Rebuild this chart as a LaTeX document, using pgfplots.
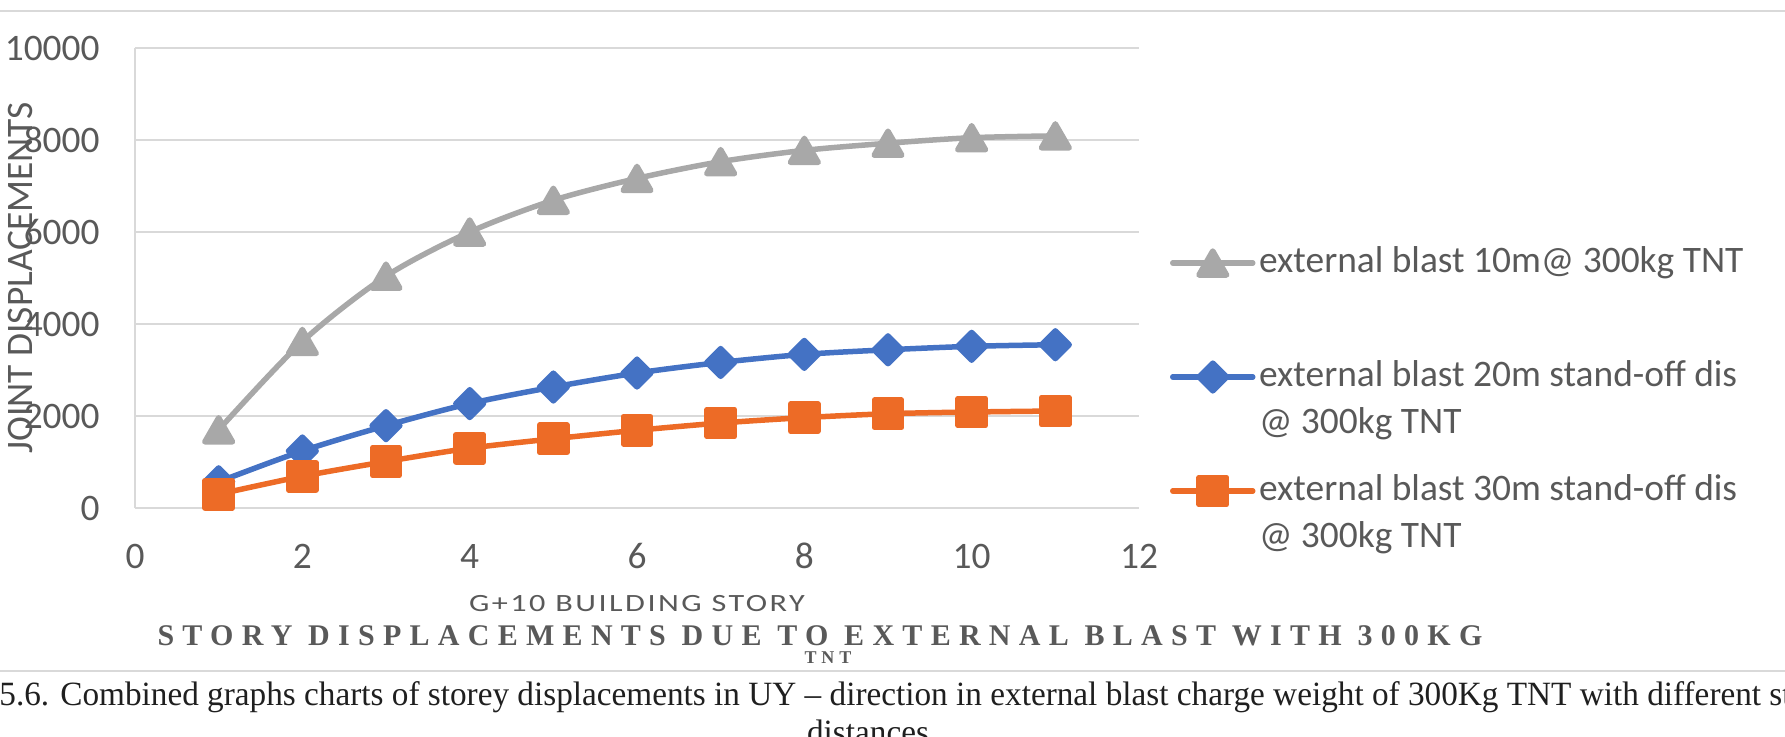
\documentclass[border=0pt]{standalone}
\usepackage{pgfplots}
\pgfplotsset{compat=1.18}
\usepackage{fontspec}
\setmainfont{Carlito}
\newfontfamily\axtitlefont{Carlito}[FakeStretch=1.3, LetterSpace=10]
\newfontfamily\serifcap{Liberation Serif}[FakeStretch=0.978]
\newfontfamily\charttitle{Liberation Serif}[LetterSpace=27.6]
\definecolor{txt}{HTML}{595959}
\definecolor{gridc}{HTML}{D9D9D9}
\definecolor{sgray}{HTML}{A8A8A8}
\definecolor{sblue}{HTML}{4472C4}
\definecolor{sorange}{HTML}{ED6B26}
% two-line legend entry, aligned on its first line
\newcommand\twolines[2]{\vtop{\hbox{#1}\hbox{#2}}}

\begin{document}
\begin{tikzpicture}
\useasboundingbox (0,0) rectangle (892.5pt,-368pt);
\draw[gridc, line width=1pt] (0,-5.5pt) -- (892.5pt,-5.5pt);
\begin{axis}[
  at={(67.5pt,-254pt)}, anchor=south west,
  scale only axis, width=502pt, height=230pt,
  xmin=0, xmax=12, ymin=0, ymax=10000,
  xtick={0,2,...,12}, ytick={0,2000,...,10000},
  scaled ticks=false,
  axis lines*=left, axis line style={-, draw=gridc, line width=1pt},
  ymajorgrids, grid style={gridc, line width=1pt},
  major tick length=0pt,
  tick label style={font=\fontsize{18.7}{22}\selectfont, text=txt,
    /pgf/number format/assume math mode=true, /pgf/number format/1000 sep={}},
  xticklabel style={anchor=base, yshift=-30pt, inner sep=0pt},
  yticklabel style={anchor=east, xshift=-17.5pt, inner sep=0pt},
  every axis y label/.style={at={(axis description cs:-0.11454,0.5)}, anchor=center,
    rotate=90, inner sep=0pt, font=\fontsize{18.7}{22}\selectfont, text=txt},
  every axis x label/.style={at={(axis description cs:0.5,0)}, anchor=base,
    yshift=-51.5pt, inner sep=0pt, font=\axtitlefont\fontsize{12.4}{15}\selectfont, text=txt},
  ylabel={JOINT DISPLACEMENTS},
  xlabel={G+10 BUILDING STORY},
  legend style={
    at={(axis description cs:1.03088,0.5783)}, anchor=north west,
    draw=none, fill=none, inner sep=0pt, outer sep=0pt,
    font=\fontsize{18.7}{23.5}\selectfont,
    column sep=1.8pt, row sep=12pt,
    cells={anchor=base west},
    nodes={inner sep=0pt, text height=15pt, text depth=30pt, text=txt},
  },
  legend image code/.code={\draw[mark repeat=2,mark phase=2]
    plot coordinates {(1.25pt,0pt) (21.25pt,0pt) (41.25pt,0pt)};},
  legend image post style={yshift=4.5pt},
  every axis plot/.append style={line width=2.75pt, line cap=round, line join=round},
]
% 10 m stand-off
\addplot[sgray, smooth, mark=triangle*, mark size=8pt,
  mark options={draw=none, fill=sgray, yshift=-2pt}] coordinates {
  (1,1700) (2,3620) (3,5040) (4,6000) (5,6690) (6,7165)
  (7,7530) (8,7775) (9,7930) (10,8050) (11,8090)};
\addlegendentry{external blast 10m@ 300kg TNT}
% 20 m stand-off
\addplot[sblue, smooth, mark=square*, mark size=4.9pt,
  mark options={draw=none, fill=sblue, rotate=45}] coordinates {
  (1,570) (2,1240) (3,1790) (4,2270) (5,2630) (6,2935)
  (7,3165) (8,3340) (9,3440) (10,3515) (11,3550)};
\addlegendentry{\twolines{external blast 20m stand-off dis}{@ 300kg TNT}}
% 30 m stand-off
\addplot[sorange, smooth, mark=square*, mark size=6.8pt,
  mark options={draw=none, fill=sorange}] coordinates {
  (1,300) (2,690) (3,1010) (4,1300) (5,1505) (6,1690)
  (7,1848) (8,1965) (9,2050) (10,2087) (11,2109)};
\addlegendentry{\twolines{external blast 30m stand-off dis}{@ 300kg TNT}}
\end{axis}
\node[anchor=base, inner sep=0pt, text=txt,
  font=\charttitle\bfseries\fontsize{15}{18}\selectfont] at (410pt,-322.5pt)
  {STORY DISPLACEMENTS DUE TO EXTERNAL BLAST WITH 300KG};
\node[anchor=base, inner sep=0pt, text=txt,
  font=\charttitle\bfseries\fontsize{9}{10}\selectfont] at (414pt,-331.5pt) {TNT};
\draw[gridc, line width=1.25pt] (0,-335.5pt) -- (892.5pt,-335.5pt);
\node[anchor=base west, inner sep=0pt, text=black!88,
  font=\serifcap\fontsize{17}{20}\selectfont] at (-0.5pt,-352.5pt)
  {5.6. Combined graphs charts of storey displacements in UY – direction in external blast charge weight of 300Kg TNT with different stand-off};
\node[anchor=base, inner sep=0pt, text=black!88,
  font=\serifcap\fontsize{17}{20}\selectfont] at (434pt,-371.5pt) {distances};
\end{tikzpicture}
\end{document}
